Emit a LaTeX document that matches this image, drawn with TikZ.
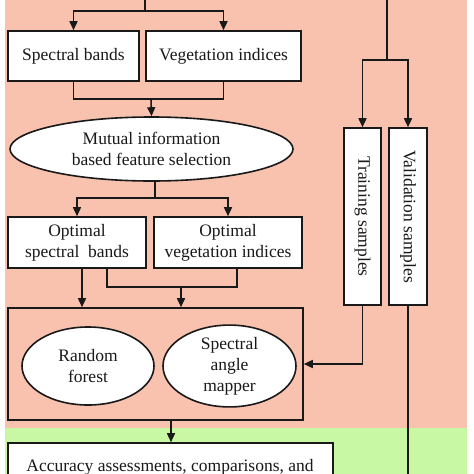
\documentclass[tikz,border=0pt]{standalone}
\usepackage{fontspec}
\setmainfont{Liberation Serif}
\usepackage{graphicx}
\usetikzlibrary{shapes.geometric,arrows.meta}
\definecolor{salmon}{RGB}{249,194,174}
\definecolor{lgreen}{RGB}{200,248,164}
\definecolor{ink}{RGB}{25,25,25}
\tikzset{
  box/.style={draw=ink, line width=1.6pt, fill=white, inner sep=0pt, align=center, text=ink,
    font=\fontsize{17.5}{21}\selectfont},
  oval/.style={ellipse, draw=ink, line width=1.6pt, fill=white, inner sep=0pt, align=center, text=ink,
    font=\fontsize{17.5}{21}\selectfont},
  conn/.style={draw=ink, line width=1.6pt},
  arr/.style={conn, -{Triangle[length=9pt,width=8pt]}},
}
\begin{document}
\begin{tikzpicture}[x=1pt,y=-1pt]
\useasboundingbox (0,0) rectangle (474,474);
\clip (0,0) rectangle (474,474);
\fill[white] (0,0) rectangle (474,474);
\fill[salmon] (5,-1) rectangle (467,428);
\fill[lgreen] (5,428) rectangle (467,475);

% nodes
\node[box, minimum width=131, minimum height=50] (sb) at (73.5,56) {Spectral bands};
\node[box, minimum width=155, minimum height=50] (vi) at (223.5,56) {Vegetation indices};
\node[oval, minimum width=283, minimum height=64] (mi) at (151.5,149) {Mutual information\\based feature selection};
\node[box, minimum width=138, minimum height=51] (osb) at (77,242.5) {Optimal\\spectral\ \ bands};
\node[box, minimum width=148, minimum height=51] (ovi) at (228,242.5) {Optimal\\vegetation indices};
\node[box, fill=salmon, minimum width=295, minimum height=112] (big) at (155.5,364) {};
\node[oval, minimum width=132, minimum height=78] (rf) at (88,366) {Random\\forest};
\node[oval, minimum width=133, minimum height=78] (sam) at (229.5,366) {Spectral\\angle\\mapper};
\node[box, minimum width=325, minimum height=70] (acc) at (170.5,478) {};
\node[anchor=base, text=ink, font=\fontsize{17.5}{21}\selectfont] (acctext) at (170,471) {Accuracy assessments, comparisons, and};
\node[box, minimum width=37, minimum height=177] (ts) at (362.5,216.5) {\rotatebox{-90}{Training samples}};
\node[box, minimum width=38, minimum height=177] (vs) at (408,216.5) {\rotatebox{-90}{Validation samples}};

% coordinates
\coordinate (top1) at (145,-2);
\coordinate (top2) at (387,-2);
\coordinate (vend) at (408,476);

% connectors
\draw[conn] (top1) -- (145,11);
\draw[arr] (145,11) -| (sb.north);
\draw[arr] (145,11) -| (vi.north);

\draw[conn] (sb.south) |- (151,99) -| (vi.south);
\draw[arr] (151,99) -- (mi.north);

\draw[conn] ([xshift=3.5pt]mi.south) -- (155,198);
\draw[arr] (155,198) -| (osb.north);
\draw[arr] (155,198) -| (ovi.north);

\draw[arr] ([xshift=5pt]osb.south) -- ([xshift=5pt]osb.south |- big.north);
\draw[conn] ([xshift=30pt]osb.south) |- (181,287) -| ([xshift=9pt]ovi.south);
\draw[arr] (181,287) -- (181,0 |- big.north);

\draw[arr] ([xshift=15.5pt]big.south) -- ([xshift=15.5pt]big.south |- acc.north);

\draw[conn] (top2) -- (387,60);
\draw[arr] (387,60) -| (ts.north);
\draw[arr] (387,60) -| (vs.north);

\draw[arr] (ts.south) |- (big.east);
\draw[conn] (vs.south) -- (vend);
\end{tikzpicture}
\end{document}
